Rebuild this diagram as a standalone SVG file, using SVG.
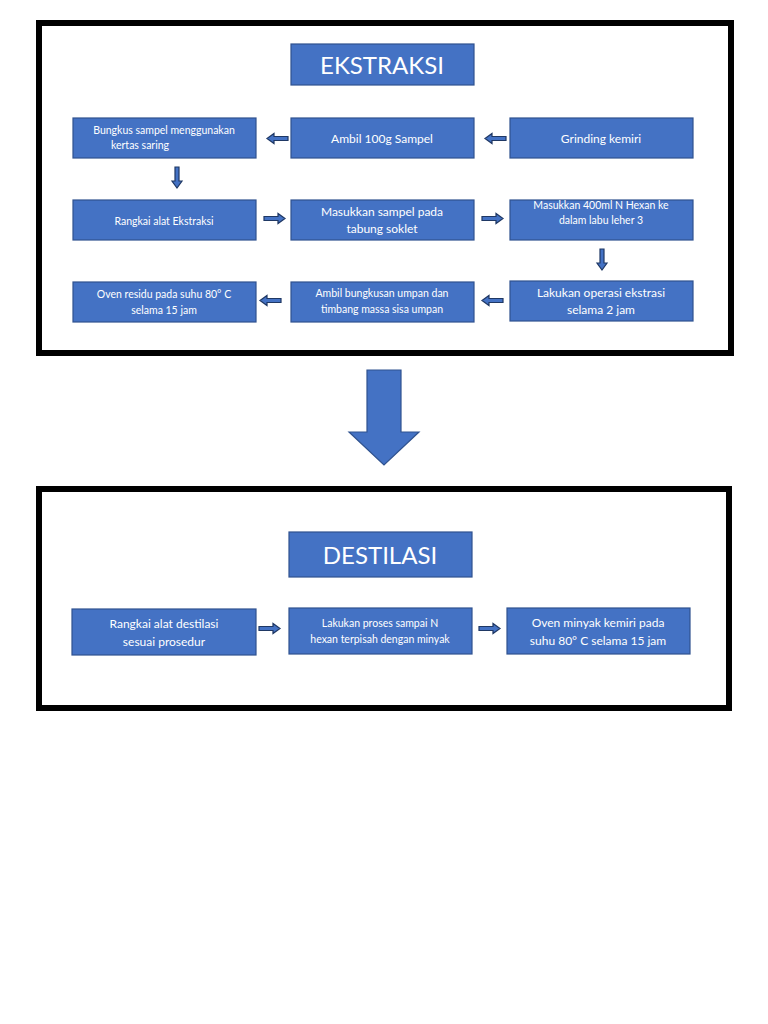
<svg xmlns="http://www.w3.org/2000/svg" width="768" height="1024" viewBox="0 0 768 1024">
<style>
.b{fill:#4472c4;stroke:#2f528f;stroke-width:1.2}
.t{fill:#fff;font-family:Lato,"Open Sans",sans-serif;text-anchor:middle}
.s{font-size:10.5px}.m{font-size:12px}
.h{font-size:24px}
.a{fill:#4472c4;stroke:#1f3864;stroke-width:1.2}
.f{fill:none;stroke:#000;stroke-width:6}
</style>
<rect width="768" height="1024" fill="#fff"/>
<rect class="f" x="39" y="23" width="692" height="330"/>
<rect class="f" x="39" y="489" width="690" height="219"/>
<g id="ekstraksi"><rect class="b" x="291" y="44" width="183" height="41"/><text class="t h" x="382" y="74">EKSTRAKSI</text></g>
<g id="n1"><rect class="b" x="73" y="118" width="183" height="40"/><text class="t s" x="164" y="134">Bungkus sampel menggunakan</text><text class="t s" x="140" y="149">kertas saring</text></g>
<g id="n2"><rect class="b" x="291" y="118" width="183" height="40"/><text class="t m" x="382" y="143">Ambil 100g Sampel</text></g>
<g id="n3"><rect class="b" x="510" y="118" width="183" height="40"/><text class="t m" x="601" y="143">Grinding kemiri</text></g>
<g id="n4"><rect class="b" x="73" y="200" width="183" height="40"/><text class="t s" x="164" y="225">Rangkai alat Ekstraksi</text></g>
<g id="n5"><rect class="b" x="291" y="200" width="183" height="40"/><text class="t m" x="382" y="216">Masukkan sampel pada</text><text class="t m" x="382" y="233">tabung soklet</text></g>
<g id="n6"><rect class="b" x="510" y="200" width="183" height="40"/><text class="t s" x="601" y="209">Masukkan 400ml N Hexan ke</text><text class="t s" x="601" y="224">dalam labu leher 3</text></g>
<g id="n7"><rect class="b" x="73" y="282" width="183" height="40"/><text class="t s" x="164" y="298">Oven residu pada suhu 80° C</text><text class="t s" x="164" y="314">selama 15 jam</text></g>
<g id="n8"><rect class="b" x="291" y="282" width="183" height="40"/><text class="t s" x="382" y="297">Ambil bungkusan umpan dan</text><text class="t s" x="382" y="313">timbang massa sisa umpan</text></g>
<g id="n9"><rect class="b" x="510" y="281" width="183" height="40"/><text class="t m" x="601" y="297">Lakukan operasi ekstrasi</text><text class="t m" x="601" y="314">selama 2 jam</text></g>
<g id="destilasi"><rect class="b" x="289" y="532" width="183" height="45"/><text class="t h" x="380" y="564">DESTILASI</text></g>
<g id="d1"><rect class="b" x="72" y="609" width="184" height="46"/><text class="t m" x="164" y="628">Rangkai alat destilasi</text><text class="t m" x="164" y="646">sesuai prosedur</text></g>
<g id="d2"><rect class="b" x="289" y="608" width="183" height="46"/><text class="t s" x="380" y="627">Lakukan proses sampai N</text><text class="t s" x="380" y="643">hexan terpisah dengan minyak</text></g>
<g id="d3"><rect class="b" x="507" y="608" width="183" height="46"/><text class="t m" x="598" y="627">Oven minyak kemiri pada</text><text class="t m" x="598" y="645">suhu 80° C selama 15 jam</text></g>
<g id="connectors">
<path class="a" d="M506,136.5h-14v-3l-7,5 7,5v-3h14z"/>
<path class="a" d="M288,136.5h-14v-3l-7,5 7,5v-3h14z"/>
<path class="a" d="M175,167v14h-3l5,7 5-7h-3v-14z"/>
<path class="a" d="M264,216.5h14v-3l7,5-7,5v-3h-14z"/>
<path class="a" d="M482,216.5h14v-3l7,5-7,5v-3h-14z"/>
<path class="a" d="M600,249v14h-3l5,7 5-7h-3v-14z"/>
<path class="a" d="M503,298.5h-14v-3l-7,5 7,5v-3h14z"/>
<path class="a" d="M281,298.5h-14v-3l-7,5 7,5v-3h14z"/>
<path class="a" d="M259,626.5h14v-3l7,5-7,5v-3h-14z"/>
<path class="a" d="M479,626.5h14v-3l7,5-7,5v-3h-14z"/>
<path class="b" d="M367,370h34v62h18l-35,33-35-33h18z"/>
</g>
</svg>
